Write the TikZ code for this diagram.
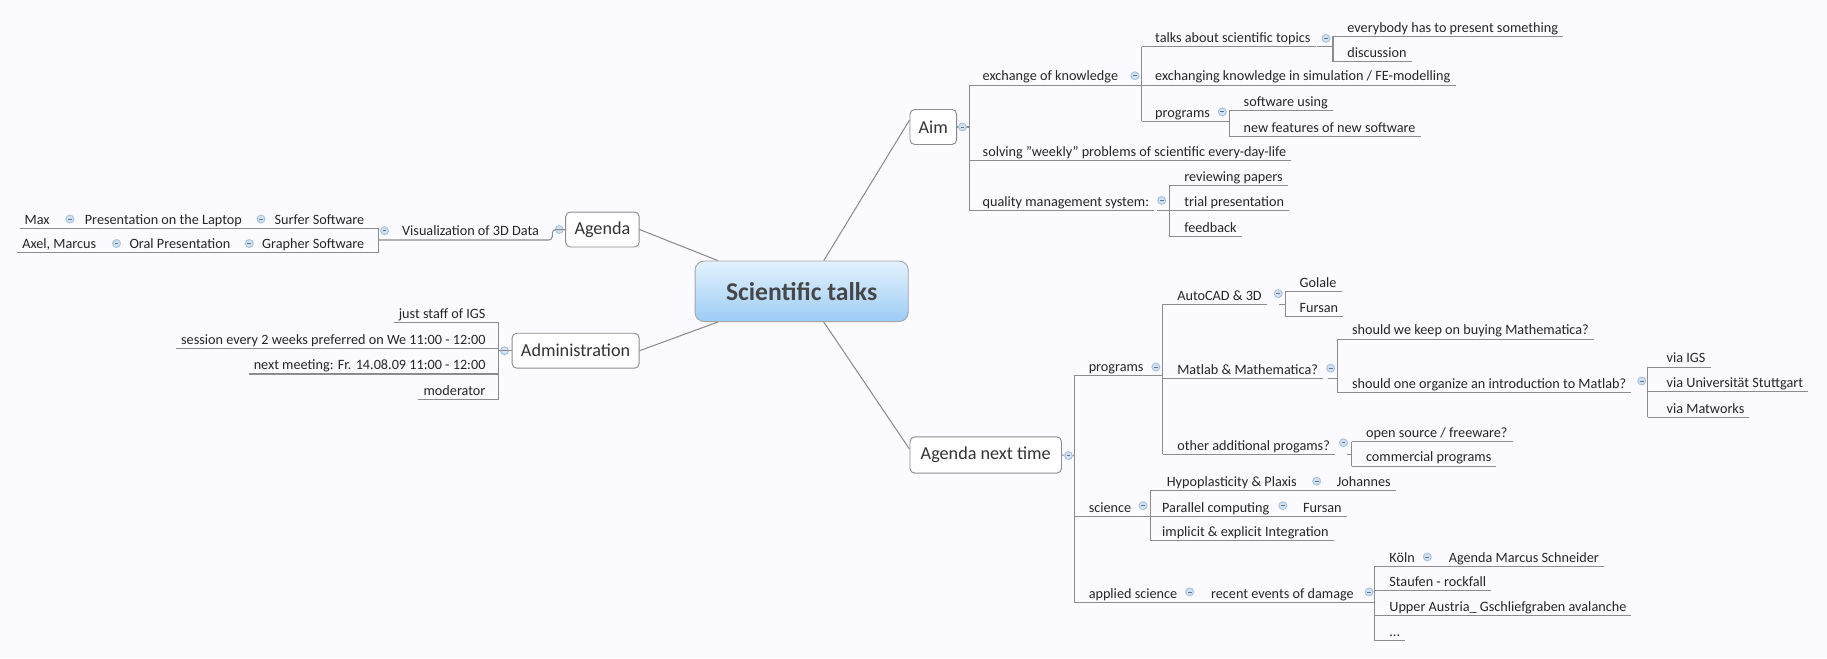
\documentclass[tikz,border=0pt]{standalone}
\usepackage{fontspec}
\setmainfont{Carlito}
\definecolor{topc}{HTML}{E4F2FD}
\definecolor{botc}{HTML}{9CCCF6}
\definecolor{cfill}{HTML}{CFE0F2}
\definecolor{cdraw}{HTML}{A9C3DF}
\begin{document}
\begin{tikzpicture}[x=0.5pt,y=-0.5pt,
  ln/.style={draw=black!45,line width=0.45pt},
  lf/.style={font=\fontsize{6.1}{6.5}\selectfont,text=black!85,inner sep=0pt,anchor=base west},
  lfr/.style={lf,anchor=base east},
  topic/.style={draw=black!45,fill=white,rounded corners=2pt,font=\fontsize{7.8}{8}\selectfont,text=black!80,inner sep=0pt,minimum height=15pt},
  cir/.style={circle,draw=cdraw,fill=cfill,inner sep=0pt,minimum size=3.4pt}]
\fill[black!3!blue!2!white] (0,0) rectangle (1568,565);
\useasboundingbox (0,0) rectangle (1568,565);
\newcommand\lf[5]{\node[lf] (#1) at (#2,{#3-3.5}) {#5};\draw[ln] (#4,#3) -- ([xshift=2pt]#1.east |- {(0,#3)});}
\newcommand\lfr[5]{\node[lfr] (#1) at (#2,{#3-3.5}) {#5};\draw[ln] (#4,#3) -- ([xshift=-2pt]#1.west |- {(0,#3)});}
\newcommand\ci[3]{\node[cir] (#1) at (#2,#3) {};\draw[cdraw!60!black,line width=0.3pt] ([xshift=-0.8pt]#1.center) -- ([xshift=0.8pt]#1.center);}

% central
\node[draw=black!35,rounded corners=4pt,top color=topc,bottom color=botc,
  minimum width=91.5pt,minimum height=26pt,font=\bfseries\fontsize{11}{12}\selectfont,text=black!72] (root) at (688,250) {Scientific talks};
\node[topic,minimum width=20pt] (aim) at (801,109) {Aim};
\node[topic,minimum width=31.5pt] (agenda) at (517,197) {Agenda};
\node[topic,minimum width=54.5pt] (admin) at (494,301) {Administration};
\node[topic,minimum width=65pt,minimum height=15.5pt] (ant) at (846,390.5) {Agenda next time};
\draw[ln] ([xshift=9.5pt]root.north) -- ([yshift=3pt]aim.west);
\draw[ln] ([xshift=-36pt]root.north) -- (agenda.east);
\draw[ln] ([xshift=-36pt]root.south) -- (admin.east);
\draw[ln] ([xshift=9.5pt]root.south) -- ([yshift=2.5pt]ant.west);

% Aim
\draw[ln] (aim.east) -- (832,109);
\draw[ln] (832,73) -- (832,181);
\ci{caim}{826}{109}
\lf{ex}{843}{73}{832}{exchange of knowledge}
\lf{solv}{843}{138}{832}{solving "weekly" problems of scientific every-day-life}
\lf{qm}{843}{181}{832}{quality management system:}
\ci{cex}{974}{65}
\draw[ln] (ex.east |- 0,73) -- (980,73);
\draw[ln] (980,40) -- (980,104);
\lf{talks}{991}{40}{980}{talks about scientific topics}
\lf{exk}{991}{73}{980}{exchanging knowledge in simulation / FE-modelling}
\lf{prog1}{991}{104}{980}{programs}
\ci{ctalks}{1138}{33}
\draw[ln] (1130,40) -- (1144,40);
\draw[ln] (1144,31) -- (1144,53);
\lf{every}{1156}{31}{1144}{everybody has to present something}
\lf{disc}{1156}{53}{1144}{discussion}
\ci{cprog1}{1049}{96}
\draw[ln] (1043,104) -- (1055,104);
\draw[ln] (1055,95) -- (1055,117);
\lf{sw}{1067}{95}{1055}{software using}
\lf{nf}{1067}{117}{1055}{new features of new software}
\ci{cqm}{997}{172}
\draw[ln] (993,181) -- (1004,181);
\draw[ln] (1004,159) -- (1004,203);
\lf{rev}{1016}{159}{1004}{reviewing papers}
\lf{trial}{1016}{181}{1004}{trial presentation}
\lf{fb}{1016}{203}{1004}{feedback}

% Agenda next time
\draw[ln] (ant.east) -- (922,391);
\ci{cant}{917}{391}
\draw[ln] (922,322) -- (922,517);
\lf{prog2}{934}{322}{922}{programs}
\lf{sci}{934}{443}{922}{science}
\node[lf] (appl) at (934,{517-3.5}) {applied science};
\draw[ln] (922,517) -- (1180,517);
\ci{cappl}{1021}{508}
\node[lf] (rec) at (1039,{517-3.5}) {recent events of damage};
\ci{crec}{1175}{508}
% programs
\ci{cprog2}{992}{315}
\draw[ln] (984,322) -- (998,322);
\draw[ln] (998,261) -- (998,390);
\lf{acad}{1010}{261}{998}{AutoCAD \& 3D}
\lf{mm}{1010}{325}{998}{Matlab \& Mathematica?}
\lf{oth}{1010}{390}{998}{other additional progams?}
\ci{cacad}{1097}{252}
\draw[ln] (1098,261) -- (1103,261);
\draw[ln] (1103,250) -- (1103,272);
\lf{gol}{1115}{250}{1103}{Golale}
\lf{fur1}{1115}{272}{1103}{Fursan}
\ci{cmm}{1142}{316}
\draw[ln] (1140,325) -- (1148,325);
\draw[ln] (1148,291) -- (1148,337);
\lf{buy}{1160}{291}{1148}{should we keep on buying Mathematica?}
\lf{org}{1160}{337}{1148}{should one organize an introduction to Matlab?}
\ci{corg}{1409}{327}
\draw[ln] (1414,315) -- (1414,358);
\lf{igs}{1430}{315}{1414}{via IGS}
\lf{uni}{1430}{336}{1414}{via Universität Stuttgart}
\lf{mw}{1430}{358}{1414}{via Matworks}
\ci{coth}{1153}{380}
\draw[ln] (1156,390) -- (1160,390);
\draw[ln] (1160,379) -- (1160,400);
\lf{open}{1172}{379}{1160}{open source / freeware?}
\lf{comm}{1172}{400}{1160}{commercial programs}
% science
\ci{csci}{981}{434}
\draw[ln] (975,443) -- (987,443);
\draw[ln] (987,421) -- (987,464);
\node[lf] (hyp) at (1001,{421-3.5}) {Hypoplasticity \& Plaxis};
\ci{chyp}{1130}{413}
\lf{joh}{1147}{421}{987}{Johannes}
\node[lf] (par) at (997,{443-3.5}) {Parallel computing};
\ci{cpar}{1101}{434}
\lf{fur2}{1118}{443}{987}{Fursan}
\lf{impl}{997}{464}{987}{implicit \& explicit Integration}
% recent events
\draw[ln] (1180,486) -- (1180,550);
\node[lf] (koeln) at (1192,{486-3.5}) {Köln};
\ci{ckoeln}{1225}{478}
\lf{ams}{1243}{486}{1180}{Agenda Marcus Schneider}
\lf{stau}{1192}{507}{1180}{Staufen - rockfall}
\lf{upper}{1192}{528}{1180}{Upper Austria\_ Gschliefgraben avalanche}
\lf{dots}{1192}{550}{1180}{...}

% Agenda (left)
\ci{cag}{480}{197}
\draw[ln,rounded corners=1.5pt] (agenda.west) -- (474,197) -- (474,206) -- (325,206);
\node[lfr] (vis) at (463,{206-3.5}) {Visualization of 3D Data};
\ci{cvis}{330}{198}
\draw[ln] (325,196) -- (325,217);
\node[lfr] (surf) at (313,{196-3.5}) {Surfer Software};
\ci{csurf}{224}{188}
\node[lfr] (pres) at (208,{196-3.5}) {Presentation on the Laptop};
\ci{cpres}{60}{188}
\lfr{max}{43}{196}{325}{Max}
\node[lfr] (graph) at (313,{217-3.5}) {Grapher Software};
\ci{cgraph}{214}{209}
\node[lfr] (oral) at (198,{217-3.5}) {Oral Presentation};
\ci{coral}{100}{209}
\lfr{axel}{83}{217}{325}{Axel, Marcus}

% Administration
\ci{cadm}{433}{301}
\draw[ln] (admin.west) -- (428,301);
\draw[ln] (428,277) -- (428,343);
\lfr{staff}{417}{277}{428}{just staff of IGS}
\lfr{sess}{417}{299}{428}{session every 2 weeks preferred on We 11:00 - 12:00}
\lfr{next}{417}{321}{428}{next meeting: Fr. 14.08.09 11:00 - 12:00}
\lfr{mod}{417}{343}{428}{moderator}
\end{tikzpicture}
\end{document}
